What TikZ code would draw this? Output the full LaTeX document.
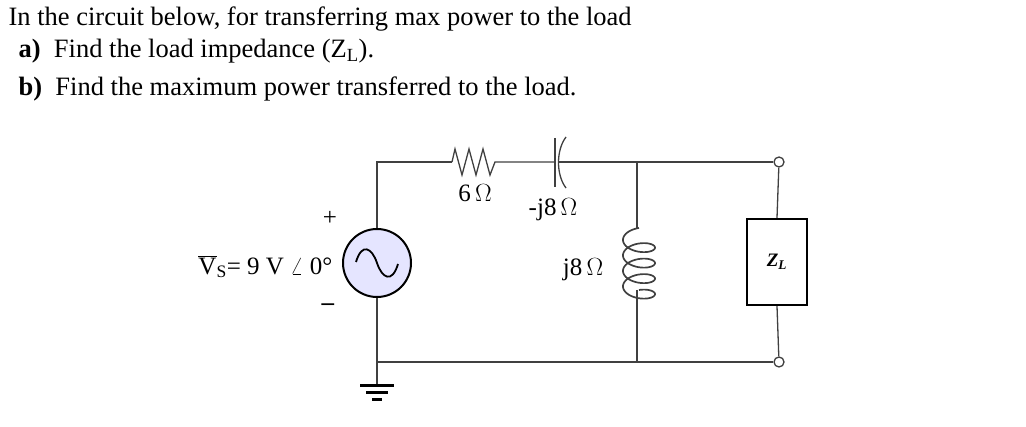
\documentclass[tikz,border=0pt]{standalone}
\usepackage{fontspec}
\setmainfont{Liberation Serif}
\begin{document}
\begin{tikzpicture}[x=1pt,y=-1pt,line width=1.3pt,
  wire/.style={draw=black!75,line width=1.3pt},
  lbl/.style={font=\fontsize{25}{28}\selectfont,inner sep=0pt},
  ttl/.style={font=\fontsize{26.5}{30}\selectfont,anchor=base west,inner sep=0pt},
  term/.style={circle,draw=black!75,fill=white,line width=1.3pt,minimum size=10pt,inner sep=0pt}]
\useasboundingbox (0,0) rectangle (1026,427);
\node[ttl] (t1) at (8,26) {In the circuit below, for transferring max power to the load};
\node[ttl] (t2) at (18,58) {\textbf{a)}\ \ Find the load impedance (Z\textsubscript{L}).};
\node[ttl] (t3) at (18,96) {\textbf{b)}\ \ Find the maximum power transferred to the load.};
\coordinate (tl) at (377,162);
\coordinate (bl) at (377,362);
\coordinate (tm) at (637,162);
\coordinate (bm) at (637,362);
\node[term] (ta) at (779,162) {};
\node[term] (tb) at (779,362) {};
\node[circle,draw=black,fill=blue!10,line width=2pt,minimum size=68pt,inner sep=0pt] (src) at (377,263) {};
\draw[line width=1.8pt] (356,262) .. controls (362,242) and (372,248) .. (377,263) .. controls (382,278) and (392,284) .. (398,264);
\draw[wire] (src.north) -- (tl) -- (452,162);
\draw[wire] (452,162) -- (455,149) -- (462,175) -- (469,149) -- (476,175) -- (483,149) -- (490,175) -- (495,162) -- (555,162);
\draw[wire] (555,138) -- (555,187);
\draw[wire] (566,137) .. controls (556,150) and (556,175) .. (566,188);
\draw[wire] (559,162) -- (tm) -- (ta);
\draw[wire] (tm) -- (637,228);
\draw[wire,line width=1.7pt,smooth,samples=400,domain=90:1530,variable=\t] plot ({639+16*cos(\t)},{236+(\t-90)/23.226-8*sin(\t)});
\draw[wire] (637,290) -- (bm);
\draw[wire] (src.south) -- (bl) -- (bm) -- (tb);
\draw[wire] (bl) -- (377,384);
\node[draw=black,line width=2.2pt,fill=white,minimum width=60pt,minimum height=86pt,inner sep=0pt] (zl) at (777,262) {\fontsize{19}{20}\selectfont\textbf{\textit{Z\textsubscript{L}}}};
\draw[wire] (ta) -- (zl.north);
\draw[wire] (zl.south) -- (tb);
\draw[line width=3pt] (360,386) -- (394,386);
\draw[line width=3pt] (366,393) -- (388,393);
\draw[line width=3pt] (372,400) -- (382,400);
\node[lbl] (l6) at (475,193) {6\,$\Omega$};
\node[lbl] (l8) at (553,210) {-j8\,$\Omega$};
\node[lbl] (lj) at (583,270) {j8\,$\Omega$};
\node[lbl] (lp) at (330,218) {+};
\node[lbl] (lm) at (328,307) {\textbf{--}};
\node[lbl,anchor=east] (lv) at (333,267) {$\overline{\mathrm{V}}_{\mathrm{S}}$= 9 V $\angle$ 0\textdegree};
\end{tikzpicture}
\end{document}
